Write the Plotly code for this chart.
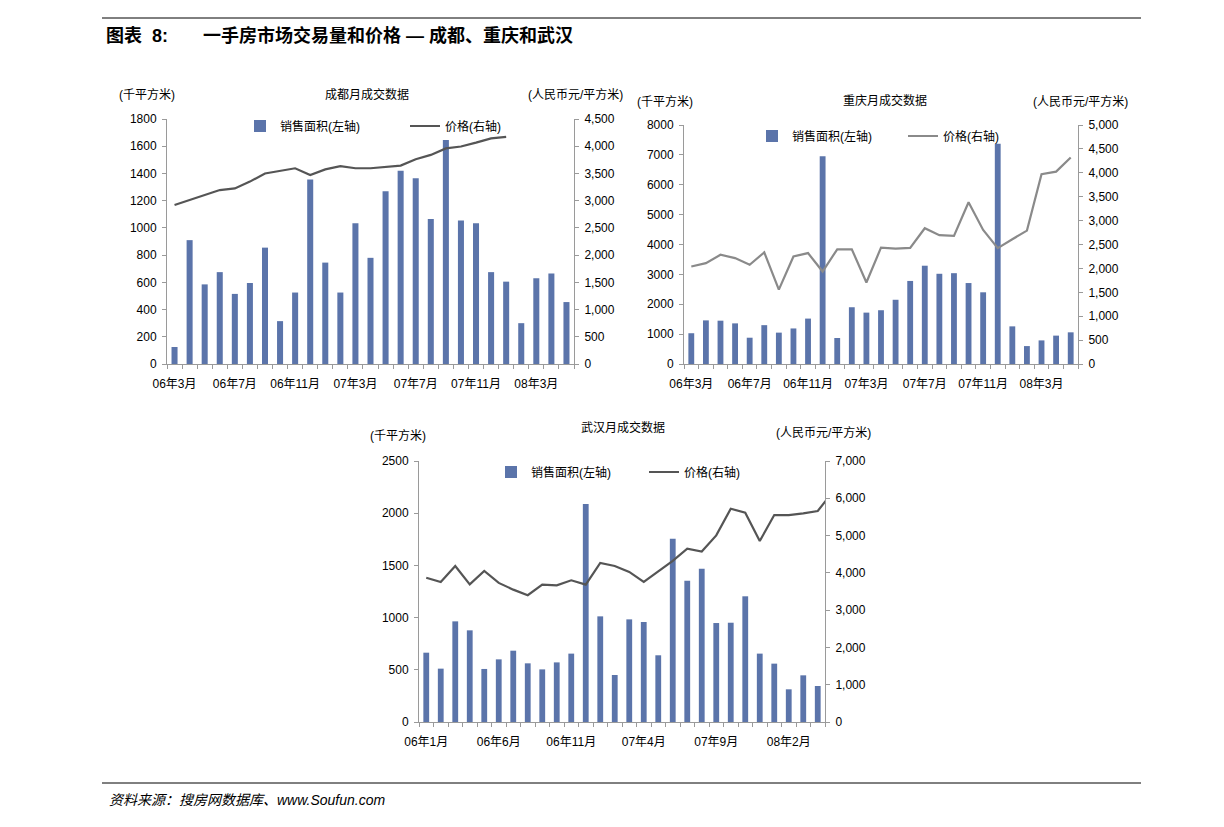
import plotly.graph_objects as go

# Data =========================================================================
def month_labels(year, month, n):
    out = []
    for _ in range(n):
        out.append(f"{year:02d}年{month}月")
        month += 1
        if month > 12:
            month = 1
            year += 1
    return out

cd_months = month_labels(6, 3, 27)
cd_area = [125, 910, 585, 675, 515, 595, 855, 315, 525, 1355, 745, 525, 1035, 780,
           1270, 1420, 1365, 1065, 1645, 1055, 1035, 675, 605, 300, 630, 665, 455]
cd_price = [2920, 3010, 3105, 3195, 3225, 3350, 3500, 3550, 3595, 3470, 3575, 3635,
            3595, 3595, 3615, 3645, 3760, 3840, 3960, 3995, 4065, 4145, 4170]

cq_months = month_labels(6, 3, 27)
cq_area = [1030, 1460, 1450, 1360, 880, 1300, 1050, 1190, 1520, 6950, 870, 1900, 1720,
           1800, 2150, 2780, 3290, 3020, 3040, 2710, 2400, 7370, 1260, 600, 790, 950, 1060]
cq_price = [2040, 2110, 2285, 2215, 2075, 2335, 1555, 2250, 2320, 1935, 2400, 2400,
            1705, 2435, 2415, 2430, 2840, 2695, 2680, 3385, 2805, 2425, 2610, 2790,
            3970, 4025, 4320]

wh_months = month_labels(6, 1, 29)
wh_area = [664, 511, 964, 878, 508, 600, 683, 562, 504, 571, 655, 2088, 1012, 450,
           983, 958, 639, 1756, 1354, 1469, 948, 951, 1204, 655, 559, 313, 447, 345]
wh_price = [3870, 3755, 4185, 3690, 4050, 3730, 3550, 3400, 3685, 3665, 3800, 3685,
            4265, 4185, 4025, 3755, 4040, 4320, 4650, 4570, 5005, 5720, 5615, 4855,
            5550, 5550, 5595, 5660, 6150]

BAR_COLOR = '#5b74aa'
FONT = 'Liberation Sans, Noto Sans CJK SC, sans-serif'
OFF = 8                      # page body margin
W, H = 1224 - OFF, 827 - OFF


def px_x(v):
    return (v - OFF) / W


def px_y(v):
    return 1 - (v - OFF) / H


# Plot figures =================================================================
fig = go.Figure()

panels = [
    dict(title='成都月成交数据', months=cd_months, area=cd_area, price=cd_price,
         color='#555555', step=4, xd=(167, 574), yd=(119, 364),
         left=(1800, 200), right=(4500, 500), leg=(240, 126), entry=120,
         labels=((147, 95), (367, 95), (575, 95))),
    dict(title='重庆月成交数据', months=cq_months, area=cq_area, price=cq_price,
         color='#8a8a8a', step=4, xd=(684, 1078), yd=(125, 364),
         left=(8000, 1000), right=(5000, 500), leg=(752, 136), entry=106,
         labels=((665, 101), (885, 100), (1080, 101))),
    dict(title='武汉月成交数据', months=wh_months, area=wh_area, price=wh_price,
         color='#555555', step=5, xd=(419, 825), yd=(461, 722),
         left=(2500, 500), right=(7000, 1000), leg=(491, 472), entry=108,
         labels=((398, 435), (623, 428), (823, 432))),
]

for i, p in enumerate(panels):
    n = i + 1
    xa = 'x' if n == 1 else f'x{n}'
    ya_l = 'y' if n == 1 else f'y{2 * n - 1}'
    ya_r = f'y{2 * n}'
    leg = 'legend' if n == 1 else f'legend{n}'
    n_bars = len(p['area'])

    fig.add_trace(go.Bar(
        x=p['months'][:n_bars], y=p['area'], name='销售面积(左轴)',
        marker=dict(color=BAR_COLOR, line=dict(width=0)),
        xaxis=xa, yaxis=ya_l, legend=leg,
    ))
    fig.add_trace(go.Scatter(
        x=p['months'][:len(p['price'])], y=p['price'], name='价格(右轴)',
        mode='lines', line=dict(color=p['color'], width=2.2),
        xaxis=xa, yaxis=ya_r, legend=leg,
    ))

    ticktext = [m if k % p['step'] == 0 else '' for k, m in enumerate(p['months'][:n_bars])]
    axis_style = dict(showline=True, linecolor='#9a9a9a', linewidth=1,
                      ticks='outside', ticklen=4, tickcolor='#9a9a9a',
                      showgrid=False, zeroline=False, automargin=False,
                      tickfont=dict(size=12, color='#000000', family=FONT))

    xkey = 'xaxis' if n == 1 else f'xaxis{n}'
    ylkey = 'yaxis' if n == 1 else f'yaxis{2 * n - 1}'
    yrkey = f'yaxis{2 * n}'

    fig.update_layout({
        xkey: dict(axis_style, type='category', domain=[px_x(p['xd'][0]), px_x(p['xd'][1])],
                   anchor=ya_l, range=[-0.5, n_bars - 0.5], tickson='boundaries',
                   tickmode='array', tickvals=p['months'][:n_bars], ticktext=ticktext,
                   tickangle=0, ticklabelstandoff=9,
                   categoryorder='array', categoryarray=p['months']),
        ylkey: dict(axis_style, domain=[px_y(p['yd'][1]), px_y(p['yd'][0])],
                    anchor=xa, range=[0, p['left'][0]], dtick=p['left'][1],
                    tickformat='d', ticklabelstandoff=3),
        yrkey: dict(axis_style, overlaying=ya_l, side='right', anchor=xa,
                    range=[0, p['right'][0]], dtick=p['right'][1], tickformat=',d',
                    ticklabelstandoff=3),
        leg: dict(orientation='h', x=px_x(p['leg'][0]), y=px_y(p['leg'][1]),
                  xanchor='left', yanchor='middle', entrywidth=p['entry'],
                  bgcolor='rgba(0,0,0,0)', tracegroupgap=0, borderwidth=0,
                  font=dict(size=12, color='#000000', family=FONT)),
    })

    (lx, ly), (tx, ty), (rx, ry) = p['labels']
    for text, x, y in [('(千平方米)', lx, ly), (p['title'], tx, ty), ('(人民币元/平方米)', rx, ry)]:
        fig.add_annotation(text=text, x=px_x(x), y=px_y(y), xref='paper', yref='paper',
                           xanchor='center', yanchor='middle', showarrow=False,
                           font=dict(size=12, color='#000000', family=FONT))

# Header and footer ============================================================
fig.add_annotation(text='<b>图表  8:</b>', x=px_x(104), y=px_y(36), xref='paper', yref='paper',
                   xanchor='left', yanchor='middle', showarrow=False,
                   font=dict(size=18, color='#000000', family=FONT))
fig.add_annotation(text='<b>一手房市场交易量和价格 — 成都、重庆和武汉</b>', x=px_x(201), y=px_y(36),
                   xref='paper', yref='paper', xanchor='left', yanchor='middle', showarrow=False,
                   font=dict(size=18, color='#000000', family=FONT))
fig.add_annotation(text='<i>资料来源：搜房网数据库、www.Soufun.com</i>', x=px_x(107), y=px_y(800),
                   xref='paper', yref='paper', xanchor='left', yanchor='middle', showarrow=False,
                   font=dict(size=14, color='#000000', family=FONT))

for yline in (18, 783):
    fig.add_shape(type='line', xref='paper', yref='paper',
                  x0=px_x(102), x1=px_x(1141), y0=px_y(yline), y1=px_y(yline),
                  line=dict(color='#000000', width=1))

fig.update_layout(
    template='none',
    width=W, height=H, margin=dict(l=0, r=0, t=0, b=0, pad=0),
    paper_bgcolor='white', plot_bgcolor='white',
    bargap=0.6, font=dict(family=FONT, size=12, color='#000000'),
    showlegend=True,
)

fig.write_html('out.html')
